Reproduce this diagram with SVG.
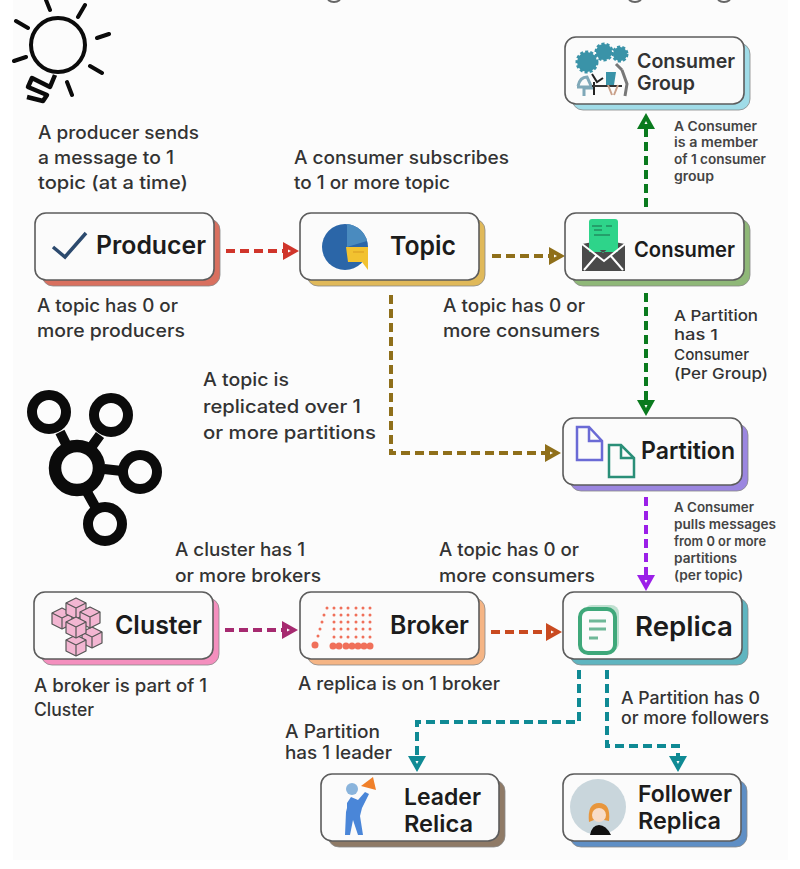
<svg xmlns="http://www.w3.org/2000/svg" width="800" height="869" viewBox="0 0 800 869">
<style>
text{font-family:"Inter","Liberation Sans",sans-serif;font-weight:500;fill:#333}
.l{font-size:18px}
.m{font-size:15px}
.s{font-size:13px;font-weight:600;fill:#444}
.t{font-weight:600;fill:#1c1c1c}
.box{fill:#fbfbfb;stroke:#5c5c5c;stroke-width:1.6}
.sh{stroke:#888;stroke-width:.8}
.c{fill:none;stroke-width:4;stroke-dasharray:9 5}
.k{fill:none;stroke:#0b0b0b}
.cube{fill:#f3b6d2;stroke:#555;stroke-width:1.2;stroke-linejoin:round}
</style>
<defs>
<marker id="aR" markerUnits="userSpaceOnUse" markerWidth="18" markerHeight="20" viewBox="0 -10 18 20" refX="0" refY="0" orient="auto"><path d="M0-9 16 0 0 9ZM5-1.5V1.5L8 0Z" fill="#d0352b" fill-rule="evenodd"/></marker>
<marker id="aB" markerUnits="userSpaceOnUse" markerWidth="18" markerHeight="20" viewBox="0 -10 18 20" refX="0" refY="0" orient="auto"><path d="M0-9 16 0 0 9ZM5-1.5V1.5L8 0Z" fill="#8f6f1a" fill-rule="evenodd"/></marker>
<marker id="aG" markerUnits="userSpaceOnUse" markerWidth="18" markerHeight="20" viewBox="0 -10 18 20" refX="0" refY="0" orient="auto"><path d="M0-9 16 0 0 9ZM5-1.5V1.5L8 0Z" fill="#0a7a1e" fill-rule="evenodd"/></marker>
<marker id="aP" markerUnits="userSpaceOnUse" markerWidth="18" markerHeight="20" viewBox="0 -10 18 20" refX="0" refY="0" orient="auto"><path d="M0-9 16 0 0 9ZM5-1.5V1.5L8 0Z" fill="#9b1fe8" fill-rule="evenodd"/></marker>
<marker id="aM" markerUnits="userSpaceOnUse" markerWidth="18" markerHeight="20" viewBox="0 -10 18 20" refX="0" refY="0" orient="auto"><path d="M0-9 16 0 0 9ZM5-1.5V1.5L8 0Z" fill="#a62a70" fill-rule="evenodd"/></marker>
<marker id="aO" markerUnits="userSpaceOnUse" markerWidth="18" markerHeight="20" viewBox="0 -10 18 20" refX="0" refY="0" orient="auto"><path d="M0-9 16 0 0 9ZM5-1.5V1.5L8 0Z" fill="#c94a20" fill-rule="evenodd"/></marker>
<marker id="aT" markerUnits="userSpaceOnUse" markerWidth="18" markerHeight="20" viewBox="0 -10 18 20" refX="0" refY="0" orient="auto"><path d="M0-9 16 0 0 9ZM5-1.5V1.5L8 0Z" fill="#0f8a94" fill-rule="evenodd"/></marker>
<g id="cube"><path class="cube" d="M0-10 10-5V6L0 11-10 6V-5Z"/><path class="cube" d="M-10-5 0 0 10-5M0 0V11" style="fill:none"/></g>
</defs>

<rect width="800" height="869" fill="#fff"/>
<rect x="13" y="0" width="775" height="860" fill="#fcfcfc"/>
<path d="M328 0Q334 4 340 0M629 0Q635 4 641 0M718 0Q724 4 730 0" fill="none" stroke="#666" stroke-width="2"/>

<g id="bulb-icon" class="k" stroke-width="4" stroke-linecap="round" stroke-linejoin="round">
<circle cx="58" cy="45" r="27"/>
<path d="M46 0 50 10M85 5 78 17M97 38 109 34M90 66 102 73M67 82 72 95M26 57 14 61M28 28 16 21"/>
<path d="M55 75 50 87 32 78 28 87 47 95 43 101 27 97" stroke-width="4.5" stroke-linecap="butt"/>
</g>

<g id="kafka-icon" class="k">
<path d="M60 432 68 448M100 435 90 449M104 469 122 471M87 492 96 508" stroke-width="10"/>
<circle cx="77" cy="468" r="22" stroke-width="12.5"/>
<circle cx="49" cy="412" r="17" stroke-width="10"/>
<circle cx="111" cy="415" r="17" stroke-width="10"/>
<circle cx="140" cy="472" r="17" stroke-width="10"/>
<circle cx="105" cy="524" r="17" stroke-width="10"/>
</g>

<g id="connectors">
<path class="c" stroke="#d0352b" d="M226 251H283" marker-end="url(#aR)"/>
<path class="c" stroke="#8f6f1a" d="M492 256H549" marker-end="url(#aB)"/>
<path class="c" stroke="#0a7a1e" d="M646 207V129" marker-end="url(#aG)"/>
<path class="c" stroke="#0a7a1e" d="M646 293V400" marker-end="url(#aG)"/>
<path class="c" stroke="#8f6f1a" d="M391 295V453H545" marker-end="url(#aB)"/>
<path class="c" stroke="#9b1fe8" d="M646 497V575" marker-end="url(#aP)"/>
<path class="c" stroke="#a62a70" d="M225 630H282" marker-end="url(#aM)"/>
<path class="c" stroke="#c94a20" d="M491 632H546" marker-end="url(#aO)"/>
<path class="c" stroke="#0f8a94" d="M579 670V722H417V756" marker-end="url(#aT)"/>
<path class="c" stroke="#0f8a94" d="M607 670V746H678V756" marker-end="url(#aT)"/>
</g>

<g id="producer">
<rect class="sh" x="42" y="219" width="178" height="67" rx="11" fill="#d9705f"/>
<rect class="box" x="35" y="213" width="179" height="67" rx="11"/>
<path d="M53 247 65 257 86 233" fill="none" stroke="#2c4a6e" stroke-width="3.5"/>
<text class="t" x="96" y="254" font-size="25" textLength="110" lengthAdjust="spacingAndGlyphs">Producer</text>
</g>

<g id="topic">
<rect class="sh" x="307" y="219" width="178" height="67" rx="11" fill="#e0b95a"/>
<rect class="box" x="300" y="213" width="179" height="67" rx="11"/>
<circle cx="345" cy="247" r="23" fill="#2b66a8"/>
<path d="M347 224A23 23 0 0 1 367 241L347 247Z" fill="#4a8bbf"/>
<path d="M346 247H368V270L362 262H348Z" fill="#f2c230"/>
<path d="M353 252H364" stroke="#d99a20" stroke-width="1"/>
<text class="t" x="390" y="255" font-size="26" textLength="66" lengthAdjust="spacingAndGlyphs">Topic</text>
</g>

<g id="consumer">
<rect class="sh" x="572" y="219" width="178" height="67" rx="11" fill="#8fb878"/>
<rect class="box" x="565" y="213" width="179" height="67" rx="11"/>
<path d="M582 244 604 240 625 244V271H582Z" fill="#4a4a4a"/>
<rect x="589" y="219" width="29" height="31" rx="3" fill="#2ed48a"/>
<path d="M589 240 603 253 618 240V252H589Z" fill="#2ed48a"/>
<path d="M592 226H602M606 226H612M594 230H602M594 235H610" stroke="#1a6b4a" stroke-width="1"/>
<path d="M582 244 604 261 625 244M584 270 597 255M623 270 610 255" fill="none" stroke="#fff" stroke-width="2"/>
<text class="t" x="634" y="257" font-size="21" textLength="101" lengthAdjust="spacingAndGlyphs">Consumer</text>
</g>

<g id="consumer-group">
<rect class="sh" x="572" y="43" width="178" height="67" rx="11" fill="#a0dce8"/>
<rect class="box" x="565" y="37" width="179" height="67" rx="11"/>
<g fill="#3a93a8" stroke="#3a93a8" stroke-width="3" stroke-dasharray="3 2">
<circle cx="587" cy="62" r="10"/><circle cx="604" cy="52" r="8"/><circle cx="620" cy="54" r="7"/>
</g>
<path d="M578 86Q580 77 587 77L592 88H584V96M577 87H590" fill="none" stroke="#7fa8b8" stroke-width="3"/>
<path d="M592 74 597 82 603 78M594 82V95" fill="none" stroke="#222" stroke-width="2"/>
<path d="M592 86H622" stroke="#333" stroke-width="2"/>
<path d="M606 72H616L614 85H606Z" fill="#3a93a8"/>
<path d="M608 85 612 95M618 85 614 95" stroke="#c9a08a" stroke-width="2"/>
<path d="M622 70 627 84 625 96M622 70 616 64" fill="none" stroke="#777" stroke-width="3"/>
<text class="t" x="637" y="68" font-size="20" textLength="98" lengthAdjust="spacingAndGlyphs" style="fill:#333">Consumer</text>
<text class="t" x="637" y="90" font-size="20" textLength="58" lengthAdjust="spacingAndGlyphs" style="fill:#333">Group</text>
</g>

<g id="partition">
<rect class="sh" x="570" y="424" width="178" height="67" rx="11" fill="#9b86e0"/>
<rect class="box" x="563" y="418" width="179" height="67" rx="11"/>
<path d="M577 427H589L602 441V460H577ZM589 427V441H602" fill="none" stroke="#6a6ad5" stroke-width="2.5"/>
<path d="M609 445H621L634 458V477H609ZM621 445V458H634" fill="none" stroke="#2a8f78" stroke-width="2.5"/>
<text class="t" x="641" y="459" font-size="24" textLength="94" lengthAdjust="spacingAndGlyphs">Partition</text>
</g>

<g id="replica">
<rect class="sh" x="570" y="598" width="178" height="67" rx="11" fill="#5fb5c0"/>
<rect class="box" x="563" y="592" width="179" height="67" rx="11"/>
<rect x="584" y="605" width="35" height="46" rx="8" fill="#bfe0d0"/>
<rect x="580" y="609" width="35" height="44" rx="8" fill="#fbfbfb" stroke="#3fa87a" stroke-width="4"/>
<path d="M589 621H606M589 629H606M589 638H598" stroke="#6fb898" stroke-width="3"/>
<text class="t" x="635" y="636" font-size="27" textLength="98" lengthAdjust="spacingAndGlyphs">Replica</text>
</g>

<g id="cluster">
<rect class="sh" x="41" y="598" width="178" height="67" rx="11" fill="#f48fbe"/>
<rect class="box" x="34" y="592" width="179" height="67" rx="11"/>
<use href="#cube" x="92" y="637"/><use href="#cube" x="76" y="645"/>
<use href="#cube" x="62" y="618"/><use href="#cube" x="76" y="608"/><use href="#cube" x="90" y="617"/>
<use href="#cube" x="76" y="627"/>
<text class="t" x="115" y="634" font-size="25" textLength="87" lengthAdjust="spacingAndGlyphs">Cluster</text>
</g>

<g id="broker">
<rect class="sh" x="307" y="598" width="178" height="67" rx="11" fill="#f5b585"/>
<rect class="box" x="300" y="592" width="179" height="67" rx="11"/>
<g fill="#f0705a">
<circle cx="327" cy="608" r="1.5"/><circle cx="334" cy="608" r="1.5"/><circle cx="341" cy="608" r="1.5"/><circle cx="348" cy="608" r="1.5"/><circle cx="356" cy="608" r="1.5"/><circle cx="363" cy="608" r="1.5"/><circle cx="370" cy="608" r="1.5"/>
<circle cx="324" cy="615" r="1.5"/><circle cx="334" cy="615" r="1.5"/><circle cx="341" cy="615" r="1.5"/><circle cx="348" cy="615" r="1.5"/><circle cx="356" cy="615" r="1.5"/><circle cx="363" cy="615" r="1.5"/><circle cx="370" cy="615" r="1.5"/>
<circle cx="322" cy="622" r="1.5"/><circle cx="334" cy="622" r="1.5"/><circle cx="341" cy="622" r="1.5"/><circle cx="348" cy="622" r="1.5"/><circle cx="356" cy="622" r="1.5"/><circle cx="363" cy="622" r="1.5"/><circle cx="370" cy="622" r="1.5"/>
<circle cx="320" cy="629" r="1.5"/><circle cx="334" cy="629" r="1.5"/><circle cx="341" cy="629" r="1.5"/><circle cx="348" cy="629" r="1.5"/><circle cx="356" cy="629" r="1.5"/><circle cx="363" cy="629" r="1.5"/><circle cx="370" cy="629" r="1.5"/>
<circle cx="318" cy="636" r="1.5"/><circle cx="334" cy="637" r="1.5"/><circle cx="341" cy="637" r="1.5"/><circle cx="348" cy="637" r="1.5"/><circle cx="356" cy="637" r="1.5"/><circle cx="363" cy="637" r="1.5"/><circle cx="370" cy="637" r="1.5"/>
<circle cx="315" cy="645" r="3.5"/><circle cx="333" cy="646" r="3.5"/><circle cx="339" cy="646" r="3.5"/><circle cx="346" cy="646" r="3.5"/><circle cx="352" cy="646" r="3.5"/><circle cx="358" cy="646" r="3.5"/><circle cx="364" cy="646" r="3.5"/><circle cx="370" cy="646" r="3.5"/>
</g>
<text class="t" x="390" y="634" font-size="25" textLength="79" lengthAdjust="spacingAndGlyphs">Broker</text>
</g>

<g id="leader-replica">
<rect class="sh" x="328" y="780" width="177" height="67" rx="11" fill="#8f7a66"/>
<rect class="box" x="321" y="774" width="178" height="67" rx="11"/>
<circle cx="352" cy="789" r="6" fill="#8ab4dc"/>
<path d="M351 797 358 800 365 792 369 794 362 808 360 816 363 835H358L353 820 350 835H345L346 812 347 808 347 803Z" fill="#4a86d8"/>
<path d="M361 786 373 777 376 790Z" fill="#f0802a"/>
<text class="t" x="404" y="805" font-size="23" textLength="77" lengthAdjust="spacingAndGlyphs">Leader</text>
<text class="t" x="404" y="832" font-size="23" textLength="69" lengthAdjust="spacingAndGlyphs">Relica</text>
</g>

<g id="follower-replica">
<rect class="sh" x="570" y="780" width="177" height="67" rx="11" fill="#5f8fc5"/>
<rect class="box" x="563" y="774" width="178" height="67" rx="11"/>
<circle cx="598" cy="807" r="28" fill="#c9d6dc"/>
<path d="M589 822Q587 803 599 803 611 803 609 821L604 820H594Z" fill="#e8963c"/>
<circle cx="599" cy="815" r="7" fill="#f8dcc8"/>
<path d="M590 835Q592 825 599 825 606 825 611 835Z" fill="#111"/>
<text class="t" x="638" y="802" font-size="23" textLength="94" lengthAdjust="spacingAndGlyphs">Follower</text>
<text class="t" x="638" y="829" font-size="23" textLength="83" lengthAdjust="spacingAndGlyphs">Replica</text>
</g>

<g id="labels">
<text class="l" x="38" y="139" textLength="161" lengthAdjust="spacingAndGlyphs">A producer sends</text>
<text class="l" x="38" y="164" textLength="136" lengthAdjust="spacingAndGlyphs">a message to 1</text>
<text class="l" x="38" y="189" textLength="150" lengthAdjust="spacingAndGlyphs">topic (at a time)</text>
<text class="l" x="294" y="164" textLength="215" lengthAdjust="spacingAndGlyphs">A consumer subscribes</text>
<text class="l" x="294" y="189" textLength="156" lengthAdjust="spacingAndGlyphs">to 1 or more topic</text>
<text class="l" x="37" y="312" textLength="141" lengthAdjust="spacingAndGlyphs">A topic has 0 or</text>
<text class="l" x="37" y="337" textLength="148" lengthAdjust="spacingAndGlyphs">more producers</text>
<text class="l" x="443" y="312" textLength="142" lengthAdjust="spacingAndGlyphs">A topic has 0 or</text>
<text class="l" x="443" y="337" textLength="157" lengthAdjust="spacingAndGlyphs">more consumers</text>
<text class="l" x="203" y="386" textLength="86" lengthAdjust="spacingAndGlyphs">A topic is</text>
<text class="l" x="203" y="413" textLength="158" lengthAdjust="spacingAndGlyphs">replicated over 1</text>
<text class="l" x="203" y="439" textLength="173" lengthAdjust="spacingAndGlyphs">or more partitions</text>
<text class="l" x="175" y="556" textLength="130" lengthAdjust="spacingAndGlyphs">A cluster has 1</text>
<text class="l" x="175" y="582" textLength="146" lengthAdjust="spacingAndGlyphs">or more brokers</text>
<text class="l" x="439" y="556" textLength="140" lengthAdjust="spacingAndGlyphs">A topic has 0 or</text>
<text class="l" x="439" y="582" textLength="156" lengthAdjust="spacingAndGlyphs">more consumers</text>
<text class="l" x="34" y="692" textLength="173" lengthAdjust="spacingAndGlyphs">A broker is part of 1</text>
<text class="l" x="34" y="716" textLength="60" lengthAdjust="spacingAndGlyphs">Cluster</text>
<text class="l" x="298" y="690" textLength="202" lengthAdjust="spacingAndGlyphs">A replica is on 1 broker</text>
<text class="l" x="285" y="738" textLength="95" lengthAdjust="spacingAndGlyphs">A Partition</text>
<text class="l" x="285" y="759" textLength="107" lengthAdjust="spacingAndGlyphs">has 1 leader</text>
<text class="m" x="621" y="704" style="font-size:17px" textLength="139" lengthAdjust="spacingAndGlyphs">A Partition has 0</text>
<text class="m" x="621" y="724" style="font-size:17px" textLength="148" lengthAdjust="spacingAndGlyphs">or more followers</text>
<text class="s" x="674" y="131" textLength="83" lengthAdjust="spacingAndGlyphs">A Consumer</text>
<text class="s" x="674" y="147" textLength="84" lengthAdjust="spacingAndGlyphs">is a member</text>
<text class="s" x="674" y="164" textLength="92" lengthAdjust="spacingAndGlyphs">of 1 consumer</text>
<text class="s" x="674" y="181" textLength="40" lengthAdjust="spacingAndGlyphs">group</text>
<text class="m" x="674" y="321" textLength="84" lengthAdjust="spacingAndGlyphs">A Partition</text>
<text class="m" x="674" y="340" textLength="44" lengthAdjust="spacingAndGlyphs">has 1</text>
<text class="m" x="674" y="360" textLength="75" lengthAdjust="spacingAndGlyphs">Consumer</text>
<text class="m" x="674" y="379" textLength="94" lengthAdjust="spacingAndGlyphs">(Per Group)</text>
<text class="s" x="674" y="512" textLength="80" lengthAdjust="spacingAndGlyphs">A Consumer</text>
<text class="s" x="674" y="529" textLength="102" lengthAdjust="spacingAndGlyphs">pulls messages</text>
<text class="s" x="674" y="546" textLength="92" lengthAdjust="spacingAndGlyphs">from 0 or more</text>
<text class="s" x="674" y="563" textLength="63" lengthAdjust="spacingAndGlyphs">partitions</text>
<text class="s" x="674" y="580" textLength="69" lengthAdjust="spacingAndGlyphs">(per topic)</text>
</g>
</svg>
